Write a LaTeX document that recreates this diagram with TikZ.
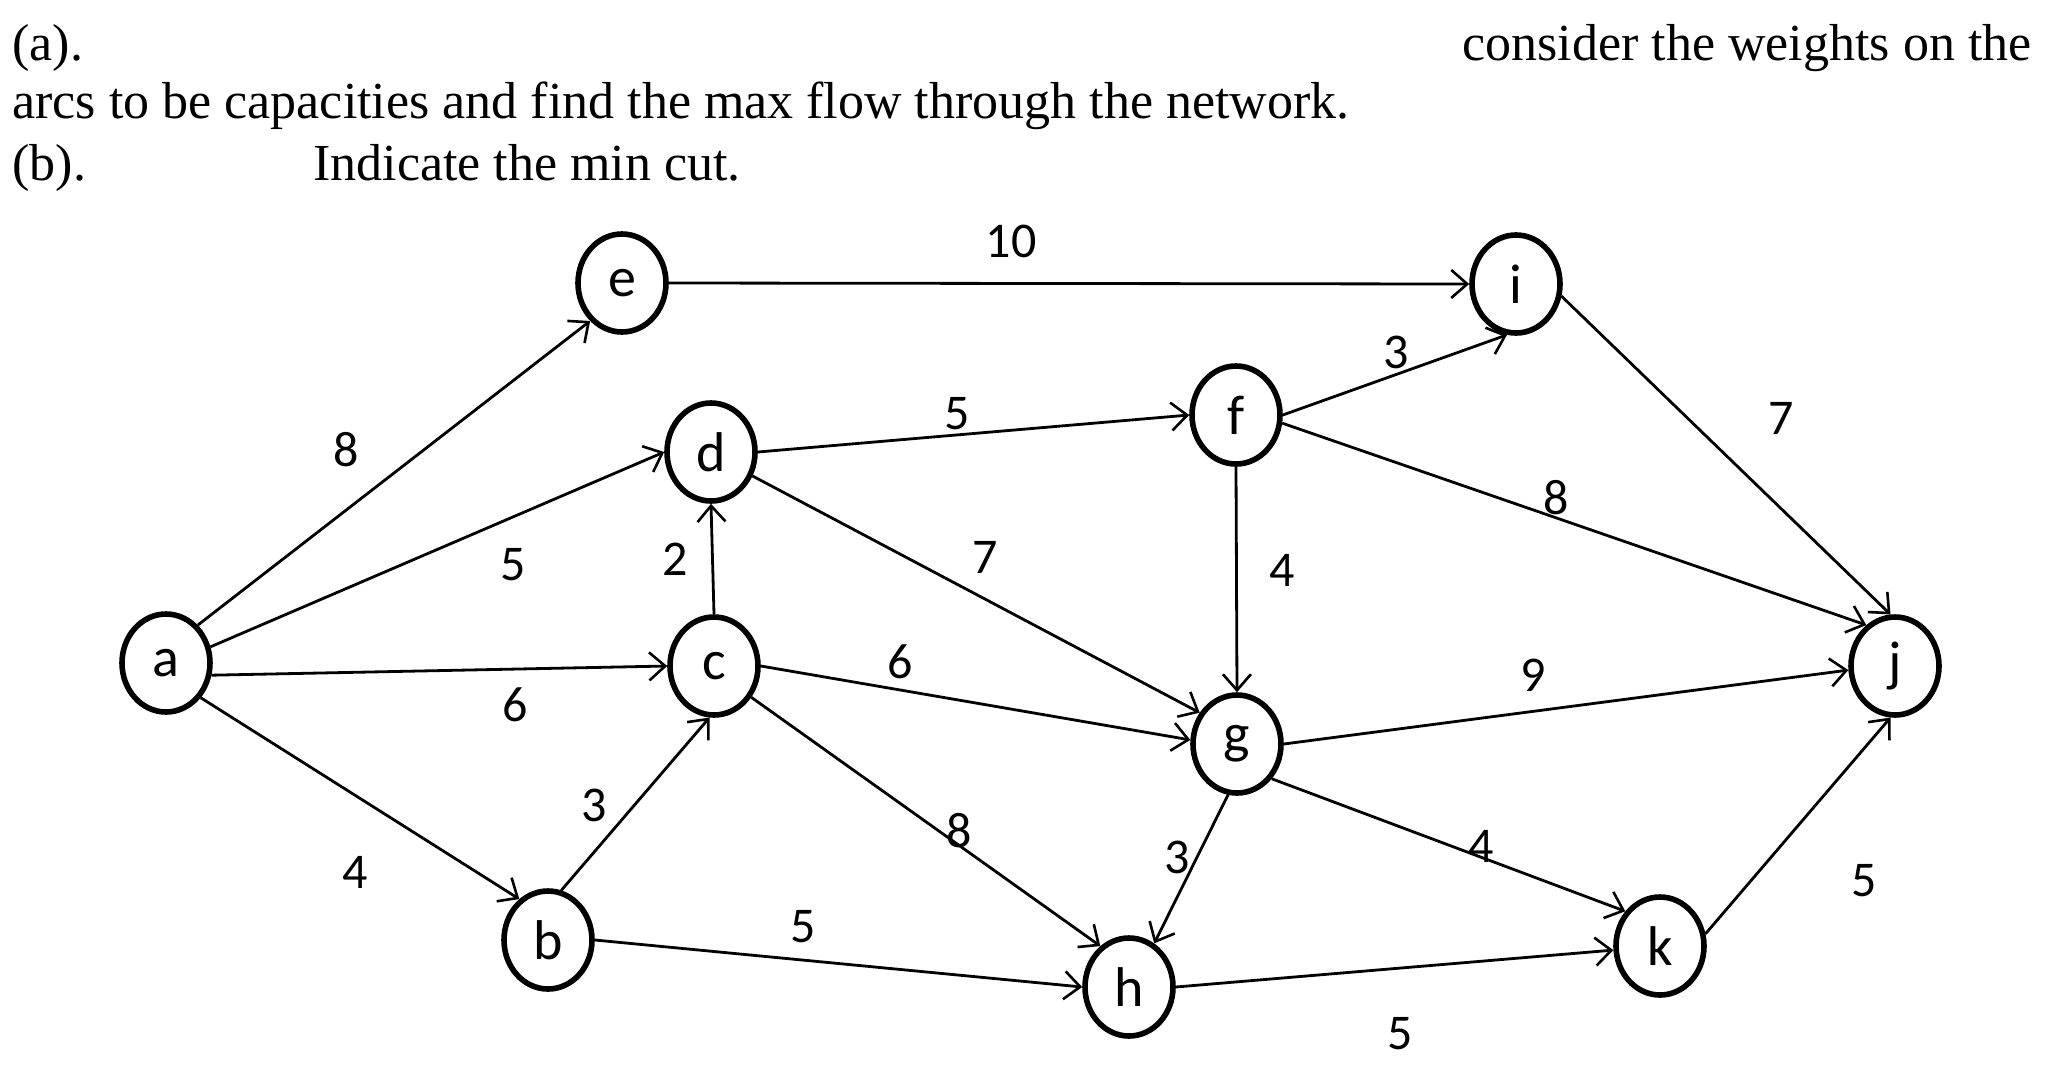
\documentclass[tikz,border=0pt]{standalone}
\usepackage{fontspec}
\setmainfont{Liberation Serif}
\newfontfamily\lblfont{Carlito}
\usetikzlibrary{arrows.meta,shapes.geometric}
\begin{document}
\begin{tikzpicture}[x=0.5pt,y=-0.5pt,
  vtx/.style={draw,ellipse,line width=2.8pt,inner sep=0pt,minimum width=44pt,minimum height=49pt,font=\lblfont\fontsize{28}{28}\selectfont},
  arc/.style={line width=1.4pt,-{Straight Barb[length=8pt,width=14pt,line width=1.3pt]}},
  wt/.style={font=\lblfont\fontsize{25}{25}\selectfont,inner sep=0pt},
  txt/.style={font=\fontsize{26}{30}\selectfont,inner sep=0pt}]
\useasboundingbox (0,0) rectangle (2046,1078);
% title text
\node[txt,anchor=base west] (ta) at (12,60) {(a).};
\node[txt,anchor=base east] (tc) at (2032,60) {consider the weights on the};
\node[txt,anchor=base west] (t2) at (12,118) {arcs to be capacities and find the max flow through the network.};
\node[txt,anchor=base west] (tb) at (12,180) {(b).};
\node[txt,anchor=base west] (ti) at (313,180) {Indicate the min cut.};
% vertices
\node[vtx] (a) at (166,663) {a};
\node[vtx] (e) at (622,283) {e};
\node[vtx] (d) at (711,452) {d};
\node[vtx] (c) at (714,666) {c};
\node[vtx] (b) at (548,940) {b};
\node[vtx] (f) at (1236,415) {f};
\node[vtx] (i) at (1516,284) {i};
\node[vtx] (g) at (1237,744) {g};
\node[vtx] (h) at (1129,987) {h};
\node[vtx] (k) at (1660,946) {k};
\node[vtx] (j) at (1895,666) {j};
% arcs
\draw[arc] (a.50) -- (e.-130);
\draw[arc] (a.20) -- (d.west);
\draw[arc] (a.-15) -- (c.west);
\draw[arc] (a.-45) -- (b.125);
\draw[arc] (b.75) -- (c.-95);
\draw[arc] (c.north) -- (d.south);
\draw[arc] (b.east) -- (h.west);
\draw[arc] (c.-40) -- (h.125);
\draw[arc] (c.east) -- (g.175);
\draw[arc] (d.-30) -- (g.140);
\draw[arc] (d.east) -- (f.west);
\draw[arc] (e.east) -- (i.west);
\draw[arc] (f.east) -- (i.-100);
\draw[arc] (f.south) -- (g.north);
\draw[arc] (f.-10) -- (j.125);
\draw[arc] (i.-15) -- (j.95);
\draw[arc] (g.east) -- (j.185);
\draw[arc] (g.-45) -- (k.135);
\draw[arc] (g.-100) -- (h.60);
\draw[arc] (h.east) -- (k.185);
\draw[arc] (k.15) -- (j.-95);
% weights
\node[wt] (w-ei) at (1011,241) {10};
\node[wt] (w-ae) at (346,450) {8};
\node[wt] (w-ad) at (513,565) {5};
\node[wt] (w-cd) at (675,559) {2};
\node[wt] (w-ac) at (515,705) {6};
\node[wt] (w-ab) at (355,872) {4};
\node[wt] (w-bc) at (594,805) {3};
\node[wt] (w-bh) at (803,927) {5};
\node[wt] (w-df) at (957,414) {5};
\node[wt] (w-dg) at (985,557) {7};
\node[wt] (w-cg) at (900,662) {6};
\node[wt] (w-ch) at (959,831) {8};
\node[wt] (w-fi) at (1396,352) {3};
\node[wt] (w-ij) at (1781,418) {7};
\node[wt] (w-fj) at (1556,498) {8};
\node[wt] (w-fg) at (1282,570) {4};
\node[wt] (w-gj) at (1533,675) {9};
\node[wt] (w-gh) at (1177,857) {3};
\node[wt] (w-gk) at (1481,846) {4};
\node[wt] (w-kj) at (1864,881) {5};
\node[wt] (w-hk) at (1400,1034) {5};
\end{tikzpicture}
\end{document}
